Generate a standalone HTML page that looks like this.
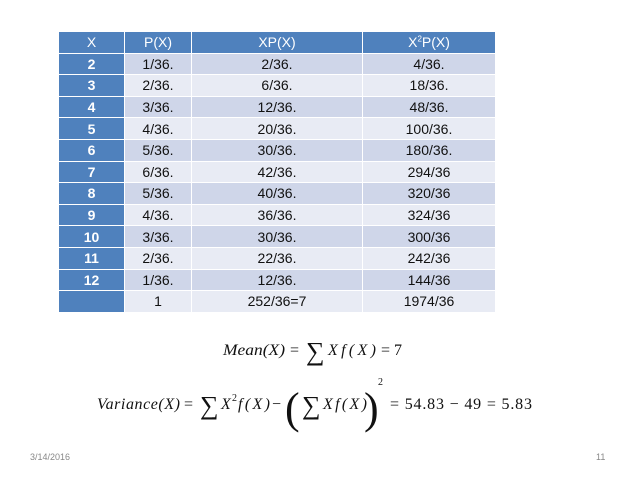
<!DOCTYPE html>
<html><head><meta charset="utf-8"><style>
body{margin:0;width:638px;height:478px;background:#fff;position:relative;overflow:hidden;font-family:"Liberation Sans",sans-serif}
table{position:absolute;left:58px;top:31px;border-collapse:collapse;width:437px;table-layout:fixed}
td,th{height:20.6px;padding:0;text-align:center;font-size:14px;color:#111;border:1px solid #fff}
th{background:#4f81bd;color:#fff;font-weight:normal}
td.x{background:#4f81bd;color:#fff;font-weight:bold}
tr.d td{background:#cfd6e9}tr.l td{background:#e8ebf4}
tr.d td.x,tr.l td.x{background:#4f81bd}
svg{position:absolute;left:0;top:0}
.f{position:absolute;font-size:9px;color:#888;top:452px}
</style></head><body>
<table>
<colgroup><col style="width:66px"><col style="width:67px"><col style="width:171px"><col style="width:133px"></colgroup>
<tr><th>X</th><th>P(X)</th><th>XP(X)</th><th>X<sup style="font-size:8px">2</sup>P(X)</th></tr>
<tr class="d"><td class="x">2</td><td>1/36.</td><td>2/36.</td><td>4/36.</td></tr>
<tr class="l"><td class="x">3</td><td>2/36.</td><td>6/36.</td><td>18/36.</td></tr>
<tr class="d"><td class="x">4</td><td>3/36.</td><td>12/36.</td><td>48/36.</td></tr>
<tr class="l"><td class="x">5</td><td>4/36.</td><td>20/36.</td><td>100/36.</td></tr>
<tr class="d"><td class="x">6</td><td>5/36.</td><td>30/36.</td><td>180/36.</td></tr>
<tr class="l"><td class="x">7</td><td>6/36.</td><td>42/36.</td><td>294/36</td></tr>
<tr class="d"><td class="x">8</td><td>5/36.</td><td>40/36.</td><td>320/36</td></tr>
<tr class="l"><td class="x">9</td><td>4/36.</td><td>36/36.</td><td>324/36</td></tr>
<tr class="d"><td class="x">10</td><td>3/36.</td><td>30/36.</td><td>300/36</td></tr>
<tr class="l"><td class="x">11</td><td>2/36.</td><td>22/36.</td><td>242/36</td></tr>
<tr class="d"><td class="x">12</td><td>1/36.</td><td>12/36.</td><td>144/36</td></tr>
<tr class="l"><td class="x"></td><td>1</td><td>252/36=7</td><td>1974/36</td></tr>
</table>
<svg width="638" height="478" font-family="Liberation Serif, serif" fill="#111">
<g>
<text x="223" y="355" font-size="16" font-style="italic" textLength="62" lengthAdjust="spacingAndGlyphs">Mean(X)</text>
<text x="290" y="355" font-size="16">=</text>
<text x="306" y="360" font-size="26">∑</text>
<text x="328" y="355" font-size="16" font-style="italic" textLength="48" lengthAdjust="spacing">Xf(X)</text>
<text x="381" y="355" font-size="16">= 7</text>
</g>
<g>
<text x="97" y="409" font-size="16" font-style="italic" textLength="83" lengthAdjust="spacing">Variance(X)</text>
<text x="184" y="409" font-size="16">=</text>
<text x="200" y="414" font-size="26">∑</text>
<text x="221" y="409" font-size="16" font-style="italic">X</text>
<text x="232" y="401" font-size="10">2</text>
<text x="238" y="409" font-size="16" font-style="italic" textLength="32" lengthAdjust="spacing">f(X)</text>
<text x="272" y="409" font-size="16">−</text>
<text x="285" y="423" font-size="44">(</text>
<text x="302" y="414" font-size="26">∑</text>
<text x="323" y="409" font-size="16" font-style="italic" textLength="44" lengthAdjust="spacing">Xf(X)</text>
<text x="364" y="423" font-size="44">)</text>
<text x="378" y="385" font-size="10">2</text>
<text x="390" y="409" font-size="16" textLength="142" lengthAdjust="spacing">= 54.83 − 49 = 5.83</text>
</g>
</svg>
<div class="f" style="left:30px">3/14/2016</div>
<div class="f" style="left:596px">11</div>
</body></html>
